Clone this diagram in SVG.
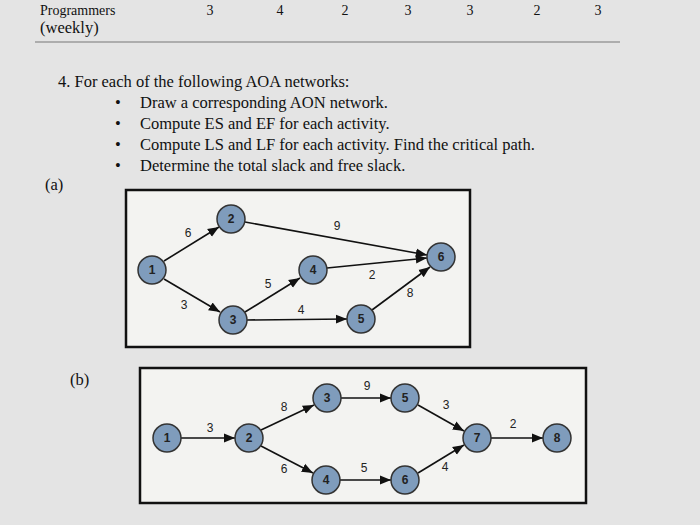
<svg xmlns="http://www.w3.org/2000/svg" width="700" height="525" viewBox="0 0 700 525">
<defs>
<marker id="ah" viewBox="0 0 10 10" refX="10" refY="5" markerWidth="7" markerHeight="7" orient="auto-start-reverse"><path d="M0,1 L10,5 L0,9 Z" fill="#111"/></marker>
</defs>
<style>
.t{font-family:"Liberation Serif",serif;font-size:16.5px;fill:#111}
.s{font-size:14px}
.box{fill:#f3f3f1;stroke:#111;stroke-width:2.5}
.n circle{fill:#7f9cbc;stroke:#333;stroke-width:1.5}
.n text{font-family:"Liberation Sans",sans-serif;font-size:12px;font-weight:bold;fill:#222;text-anchor:middle;dominant-baseline:central}
.e line{stroke:#111;stroke-width:1.6;marker-end:url(#ah)}
.l{font-family:"Liberation Sans",sans-serif;font-size:12px;fill:#222;text-anchor:middle;dominant-baseline:central}
</style>
<rect width="700" height="525" fill="#e4e4e4"/>
<text class="t s" x="40" y="15">Programmers</text>
<text class="t" x="40" y="33">(weekly)</text>
<g class="t s" text-anchor="middle"><text x="210" y="15">3</text><text x="280" y="15">4</text><text x="345" y="15">2</text><text x="408" y="15">3</text><text x="470" y="15">3</text><text x="537" y="15">2</text><text x="598" y="15">3</text></g>
<line x1="35" y1="42" x2="620" y2="42" stroke="#777" stroke-width="1"/>
<text class="t" x="58" y="87">4.  For each of the following AOA networks:</text>
<g class="t"><text x="115" y="108">•</text><text x="140" y="108">Draw a corresponding AON network.</text>
<text x="115" y="129">•</text><text x="140" y="129">Compute ES and EF for each activity.</text>
<text x="115" y="150">•</text><text x="140" y="150">Compute LS and LF for each activity. Find the critical path.</text>
<text x="115" y="171">•</text><text x="140" y="171">Determine the total slack and free slack.</text></g>
<text class="t" x="45" y="190">(a)</text>
<text class="t" x="70" y="385">(b)</text>
<rect class="box" x="126" y="190" width="344" height="157"/>
<rect class="box" x="140" y="368" width="446" height="135"/>
<g id="connectors" class="e">
<line x1="164" y1="261" x2="219" y2="227"/>
<line x1="245" y1="222" x2="427" y2="255"/>
<line x1="164" y1="279" x2="220" y2="312"/>
<line x1="245" y1="312" x2="300" y2="278"/>
<line x1="247" y1="320" x2="347" y2="319"/>
<line x1="327" y1="268" x2="427" y2="258"/>
<line x1="372" y1="310" x2="430" y2="267"/>
<line x1="181" y1="438" x2="235" y2="438"/>
<line x1="261" y1="430" x2="314" y2="405"/>
<line x1="261" y1="446" x2="313" y2="473"/>
<line x1="341" y1="398" x2="391" y2="398"/>
<line x1="340" y1="480" x2="391" y2="480"/>
<line x1="418" y1="405" x2="464" y2="431"/>
<line x1="418" y1="473" x2="464" y2="445"/>
<line x1="491" y1="438" x2="543" y2="438"/>
</g>
<g class="l">
<text x="188" y="233">6</text><text x="337" y="226">9</text><text x="268" y="284">5</text><text x="372" y="275">2</text><text x="184" y="305">3</text><text x="301" y="310">4</text><text x="410" y="293">8</text>
<text x="210" y="428">3</text><text x="284" y="407">8</text><text x="367" y="386">9</text><text x="446" y="405">3</text><text x="513" y="424">2</text><text x="284" y="469">6</text><text x="364" y="468">5</text><text x="445" y="467">4</text>
</g>
<g id="a1" class="n"><circle cx="152" cy="270" r="14"/><text x="152" y="270">1</text></g>
<g id="a2" class="n"><circle cx="231" cy="219" r="14"/><text x="231" y="219">2</text></g>
<g id="a3" class="n"><circle cx="233" cy="320" r="14"/><text x="233" y="320">3</text></g>
<g id="a4" class="n"><circle cx="313" cy="270" r="14"/><text x="313" y="270">4</text></g>
<g id="a5" class="n"><circle cx="361" cy="319" r="14"/><text x="361" y="319">5</text></g>
<g id="a6" class="n"><circle cx="441" cy="257" r="14"/><text x="441" y="257">6</text></g>
<g id="b1" class="n"><circle cx="167" cy="438" r="14"/><text x="167" y="438">1</text></g>
<g id="b2" class="n"><circle cx="249" cy="438" r="14"/><text x="249" y="438">2</text></g>
<g id="b3" class="n"><circle cx="327" cy="398" r="14"/><text x="327" y="398">3</text></g>
<g id="b4" class="n"><circle cx="326" cy="480" r="14"/><text x="326" y="480">4</text></g>
<g id="b5" class="n"><circle cx="405" cy="398" r="14"/><text x="405" y="398">5</text></g>
<g id="b6" class="n"><circle cx="405" cy="480" r="14"/><text x="405" y="480">6</text></g>
<g id="b7" class="n"><circle cx="477" cy="438" r="14"/><text x="477" y="438">7</text></g>
<g id="b8" class="n"><circle cx="557" cy="438" r="14"/><text x="557" y="438">8</text></g>
</svg>
